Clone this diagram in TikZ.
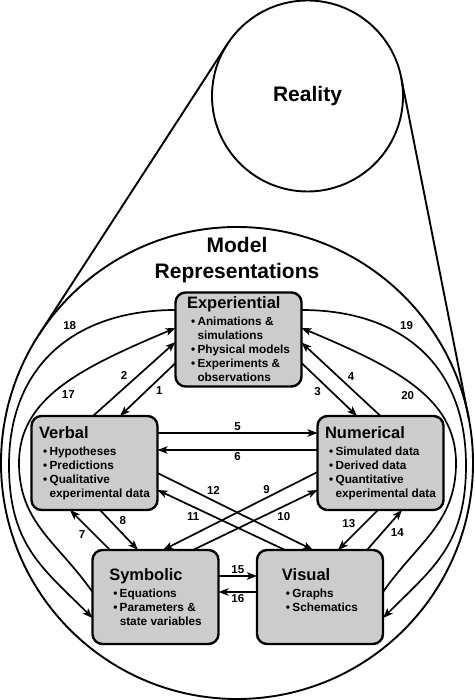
\documentclass[tikz,border=0pt]{standalone}
\usepackage{fontspec}
\setmainfont{Liberation Sans}
\usetikzlibrary{arrows.meta, positioning}

\newcommand{\bul}{\hspace*{4pt}\makebox[6.5pt][l]{\textbullet}}
\newcommand{\cont}{\hspace*{10.5pt}}
\newcommand{\ttl}[1]{{\fontsize{16.5}{18}\selectfont #1}\\[3pt]}

\begin{document}
\begin{tikzpicture}[
  x=1pt, y=1pt,
  box/.style     = {draw, line width=2.4pt, rounded corners=10pt, fill=black!20,
                    minimum width=126pt, minimum height=94pt, align=left,
                    inner sep=2pt, outer sep=0pt,
                    font=\bfseries\fontsize{11.8}{14}\selectfont},
  ring/.style    = {draw, circle, line width=1.9pt, inner sep=0pt, outer sep=0pt},
  arr/.style     = {-{Stealth[length=10pt, width=7.5pt, inset=2.5pt]}, line width=1.7pt},
  num/.style     = {font=\bfseries\fontsize{11.5}{13}\selectfont, inner sep=2pt},
  bigtext/.style = {font=\bfseries\fontsize{21}{26}\selectfont, align=center}
]
\useasboundingbox (0,0) rectangle (474,700);

\node[ring, minimum size=472pt] (model) at (237,237) {};
\node[ring, minimum size=191pt, font=\bfseries\fontsize{21}{26}\selectfont]
  (reality) at (307.5,604) {Reality};
\draw[line width=1.9pt] (reality.147.11) -- (model.147.11);
\draw[line width=1.9pt] (reality.11.29) -- (model.11.29);

\node[bigtext] (modrep) at (237,440) {Model\\Representations};

\node[box] (exp) at (238.5,360.5) {\ttl{Experiential}\bul Animations \&\\
  \cont simulations\\ \bul Physical models\\ \bul Experiments \&\\ \cont observations};
\node[box] (verbal) at (94.5,237) {\ttl{Verbal}\bul Hypotheses\\ \bul Predictions\\
  \bul Qualitative\\ \cont experimental data};
\node[box, right=160pt of verbal] (numerical) {\ttl{Numerical}\bul Simulated data\\
  \bul Derived data\\ \bul Quantitative\\ \cont experimental data};
\node[box] (symbolic) at (155.5,103) {\ttl{Symbolic}\bul Equations\\
  \bul Parameters \&\\ \cont state variables};
\node[box, right=38.5pt of symbolic] (visual) {\ttl{Visual}\bul Graphs\\
  \bul Schematics\\ \mbox{}};

\draw[arr] ([yshift=-23.5pt]exp.west) -- node[num, pos=0.4, below right] (n1) {1}
  ([xshift=25.5pt]verbal.north);
\draw[arr] ([xshift=-1.5pt]verbal.north) -- node[num, pos=0.45, above left] (n2) {2}
  ([yshift=-2.5pt]exp.west);
\draw[arr] ([yshift=-23.5pt]exp.east) -- node[num, pos=0.4, below left] (n3) {3}
  ([xshift=-23.5pt]numerical.north);
\draw[arr] (numerical.north) -- node[num, pos=0.45, above right] (n4) {4}
  ([yshift=-3pt]exp.east);
\draw[arr] ([yshift=30pt]verbal.east) -- node[num, above] (n5) {5}
  ([yshift=30pt]numerical.west);
\draw[arr] ([yshift=13pt]numerical.west) -- node[num, below] (n6) {6}
  ([yshift=13pt]verbal.east);
\draw[arr] ([xshift=-45.5pt]symbolic.north) -- node[num, pos=0.55, below left] (n7) {7}
  ([xshift=-24.5pt]verbal.south);
\draw[arr] ([xshift=5.5pt]verbal.south) -- node[num, pos=0.44, above right] (n8) {8}
  ([xshift=-17.5pt]symbolic.north);
\draw[arr] ([yshift=-9pt]numerical.west) -- node[num, pos=0.33, above=1pt] (n9) {9}
  ([xshift=7.5pt]symbolic.north);
\draw[arr] ([xshift=37.5pt]symbolic.north) -- node[num, pos=0.73, below=3pt] (n10) {10}
  ([yshift=-27pt]numerical.west);
\draw[arr] ([xshift=-35pt]visual.north) -- node[num, pos=0.72, below=3pt] (n11) {11}
  ([yshift=-27pt]verbal.east);
\draw[arr] ([yshift=-10pt]verbal.east) -- node[num, pos=0.36, above=3pt] (n12) {12}
  ([xshift=-7pt]visual.north);
\draw[arr] ([xshift=-2.5pt]numerical.south) -- node[num, pos=0.5, above left] (n13) {13}
  ([xshift=18pt]visual.north);
\draw[arr] ([xshift=47pt]visual.north) -- node[num, pos=0.6, below right] (n14) {14}
  ([xshift=21.5pt]numerical.south);
\draw[arr] ([yshift=21pt]symbolic.east) -- node[num, above] (n15) {15}
  ([yshift=21pt]visual.west);
\draw[arr] ([yshift=5pt]visual.west) -- node[num, below] (n16) {16}
  ([yshift=5pt]symbolic.east);

\coordinate (l18) at (9,235);
\coordinate (l17) at (19,237);
\coordinate (r19) at (466,235);
\coordinate (r20) at (456,237);

\draw[arr] ([yshift=29.5pt]exp.west) .. controls +(-100,0) and +(0,100) .. (l18)
  node[num, pos=0.42, above=6pt] (n18) {18}
  .. controls +(0,-80) and +(-50,50) .. ([yshift=-21pt]symbolic.west);
\draw[arr] ([yshift=5pt]symbolic.west) .. controls +(-35,50) and +(0,-60) .. (l17)
  .. controls +(0,65) and +(-95,-40) .. ([yshift=11.5pt]exp.west)
  node[num, pos=0.54, below=7pt] (n17) {17};
\draw[arr] ([yshift=29.5pt]exp.east) .. controls +(100,0) and +(0,100) .. (r19)
  node[num, pos=0.42, above=6pt] (n19) {19}
  .. controls +(0,-80) and +(50,50) .. ([yshift=-21pt]visual.east);
\draw[arr] ([yshift=5pt]visual.east) .. controls +(35,50) and +(0,-60) .. (r20)
  .. controls +(0,65) and +(95,-40) .. ([yshift=11.5pt]exp.east)
  node[num, pos=0.54, below=7pt] (n20) {20};

\end{tikzpicture}
\end{document}
